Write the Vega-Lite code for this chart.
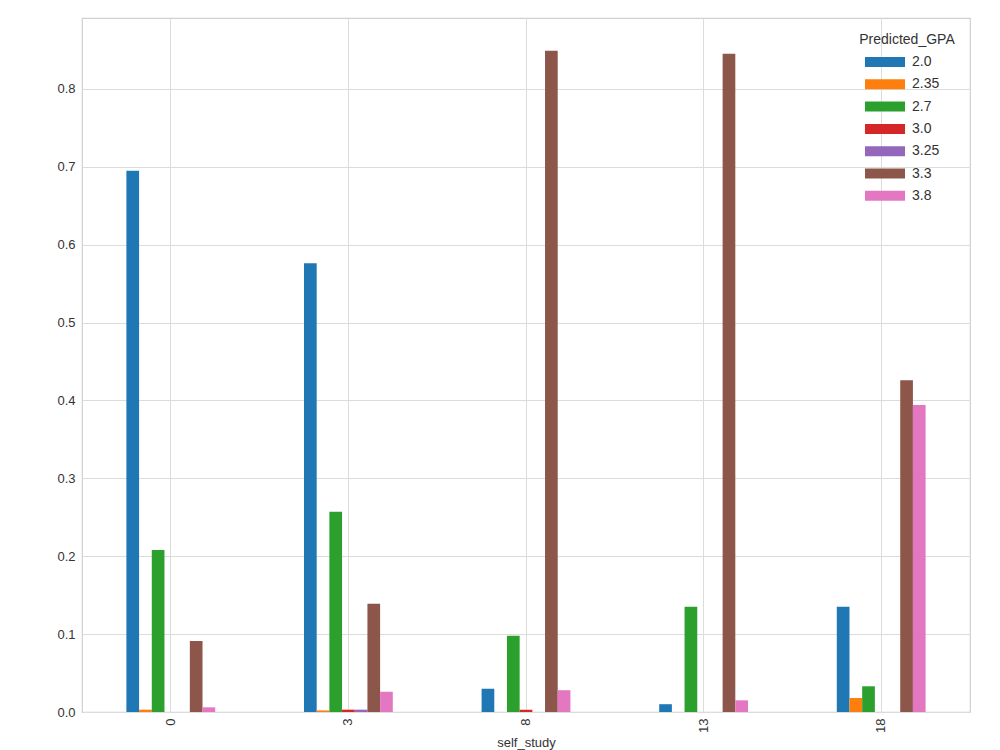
{
  "$schema": "https://vega.github.io/schema/vega-lite/v6.json",
  "width": 888,
  "height": 694,
  "autosize": {"type": "none"},
  "padding": {"left": 82, "top": 18, "right": 30, "bottom": 38},
  "background": "white",
  "config": {
    "font": "Liberation Sans",
    "view": {"stroke": "#d0d0d0", "strokeWidth": 1.2},
    "axis": {"gridColor": "#dcdcdc", "gridWidth": 1, "labelColor": "#333333", "labelFontSize": 13, "domain": false, "ticks": false}
  },
  "data": {
    "values": [
      {"self_study": 0, "Predicted_GPA": "2.0", "value": 0.695},
      {"self_study": 0, "Predicted_GPA": "2.35", "value": 0.003},
      {"self_study": 0, "Predicted_GPA": "2.7", "value": 0.208},
      {"self_study": 0, "Predicted_GPA": "3.0", "value": 0.0},
      {"self_study": 0, "Predicted_GPA": "3.25", "value": 0.0},
      {"self_study": 0, "Predicted_GPA": "3.3", "value": 0.091},
      {"self_study": 0, "Predicted_GPA": "3.8", "value": 0.006},
      {"self_study": 3, "Predicted_GPA": "2.0", "value": 0.576},
      {"self_study": 3, "Predicted_GPA": "2.35", "value": 0.002},
      {"self_study": 3, "Predicted_GPA": "2.7", "value": 0.257},
      {"self_study": 3, "Predicted_GPA": "3.0", "value": 0.003},
      {"self_study": 3, "Predicted_GPA": "3.25", "value": 0.003},
      {"self_study": 3, "Predicted_GPA": "3.3", "value": 0.139},
      {"self_study": 3, "Predicted_GPA": "3.8", "value": 0.026},
      {"self_study": 8, "Predicted_GPA": "2.0", "value": 0.030},
      {"self_study": 8, "Predicted_GPA": "2.35", "value": 0.0},
      {"self_study": 8, "Predicted_GPA": "2.7", "value": 0.098},
      {"self_study": 8, "Predicted_GPA": "3.0", "value": 0.003},
      {"self_study": 8, "Predicted_GPA": "3.25", "value": 0.0},
      {"self_study": 8, "Predicted_GPA": "3.3", "value": 0.849},
      {"self_study": 8, "Predicted_GPA": "3.8", "value": 0.028},
      {"self_study": 13, "Predicted_GPA": "2.0", "value": 0.010},
      {"self_study": 13, "Predicted_GPA": "2.35", "value": 0.0},
      {"self_study": 13, "Predicted_GPA": "2.7", "value": 0.135},
      {"self_study": 13, "Predicted_GPA": "3.0", "value": 0.0},
      {"self_study": 13, "Predicted_GPA": "3.25", "value": 0.0},
      {"self_study": 13, "Predicted_GPA": "3.3", "value": 0.845},
      {"self_study": 13, "Predicted_GPA": "3.8", "value": 0.015},
      {"self_study": 18, "Predicted_GPA": "2.0", "value": 0.135},
      {"self_study": 18, "Predicted_GPA": "2.35", "value": 0.018},
      {"self_study": 18, "Predicted_GPA": "2.7", "value": 0.033},
      {"self_study": 18, "Predicted_GPA": "3.0", "value": 0.0},
      {"self_study": 18, "Predicted_GPA": "3.25", "value": 0.0},
      {"self_study": 18, "Predicted_GPA": "3.3", "value": 0.426},
      {"self_study": 18, "Predicted_GPA": "3.8", "value": 0.394}
    ]
  },
  "mark": {"type": "bar"},
  "encoding": {
    "x": {
      "field": "self_study",
      "type": "ordinal",
      "sort": [0, 3, 8, 13, 18],
      "scale": {"paddingInner": 0.5, "paddingOuter": 0.25},
      "axis": {"labelAngle": -90, "grid": true, "bandPosition": 0.5, "labelPadding": 6, "title": "self_study", "titleFontSize": 13, "titleFontWeight": "normal", "titleColor": "#333333", "titlePadding": 4}
    },
    "xOffset": {"field": "Predicted_GPA", "type": "nominal", "scale": {"paddingInner": 0, "paddingOuter": 0}},
    "y": {
      "field": "value",
      "type": "quantitative",
      "scale": {"domain": [0, 0.891], "nice": false, "zero": true},
      "axis": {"title": null, "values": [0, 0.1, 0.2, 0.3, 0.4, 0.5, 0.6, 0.7, 0.8], "format": ".1f", "labelPadding": 7}
    },
    "color": {
      "field": "Predicted_GPA",
      "type": "nominal",
      "scale": {"domain": ["2.0", "2.35", "2.7", "3.0", "3.25", "3.3", "3.8"], "range": ["#1f77b4", "#ff7f0e", "#2ca02c", "#d62728", "#9467bd", "#8c564b", "#e377c2"]},
      "legend": {
        "orient": "top-right",
        "offset": 15,
        "title": "Predicted_GPA",
        "titleFontSize": 14,
        "titleFontWeight": "normal",
        "titleColor": "#333333",
        "titleAnchor": "middle",
        "titlePadding": 5,
        "labelFontSize": 14,
        "labelColor": "#333333",
        "symbolType": "M-2,-0.5L2,-0.5L2,0.5L-2,0.5Z",
        "symbolSize": 400,
        "symbolStrokeWidth": 0,
        "rowPadding": 5.3,
        "labelOffset": 17
      }
    }
  }
}
